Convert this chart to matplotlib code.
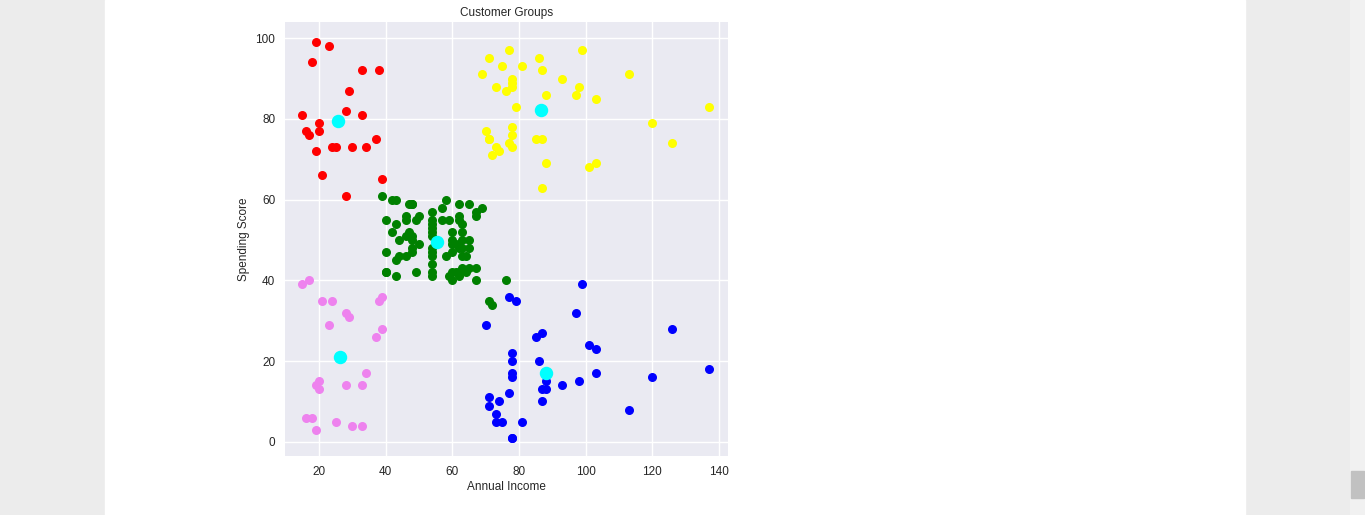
import numpy as np
import matplotlib
matplotlib.use("Agg")
import matplotlib.pyplot as plt
from matplotlib.patches import Rectangle

plt.rcParams['font.family'] = ['Liberation Sans', 'DejaVu Sans']

income = [15,15,16,16,17,17,18,18,19,19,19,19,20,20,20,20,21,21,23,23,24,24,25,25,28,28,28,28,29,29,30,30,33,33,33,33,34,34,37,37,38,38,39,39,39,39,40,40,40,40,42,42,43,43,43,43,44,44,46,46,46,46,47,47,48,48,48,48,48,48,49,49,50,50,54,54,54,54,54,54,54,54,54,54,54,54,57,57,58,58,59,59,60,60,60,60,60,60,61,61,62,62,62,62,62,62,63,63,63,63,63,63,64,64,65,65,65,65,67,67,67,67,69,69,70,70,71,71,71,71,71,71,72,72,73,73,73,73,74,74,75,75,76,76,77,77,77,77,78,78,78,78,78,78,78,78,78,78,78,78,79,79,81,81,85,85,86,86,87,87,87,87,87,87,88,88,88,88,93,93,97,97,98,98,99,99,101,101,103,103,103,103,113,113,120,120,126,126,137,137]
score = [39,81,6,77,40,76,6,94,3,72,14,99,15,77,13,79,35,66,29,98,35,73,5,73,14,82,32,61,31,87,4,73,4,92,14,81,17,73,26,75,35,92,36,61,28,65,55,47,42,42,52,60,54,60,45,41,50,46,51,46,56,55,52,59,51,59,50,48,59,47,55,42,49,56,47,54,53,48,52,42,51,55,41,44,57,46,58,55,60,46,55,41,49,40,42,52,47,50,42,49,41,48,59,55,56,42,50,46,43,48,52,54,42,46,48,50,43,59,43,57,56,40,58,91,29,77,35,95,11,75,9,75,34,71,5,88,7,73,10,72,5,93,40,87,12,97,36,74,22,90,17,88,20,76,16,89,1,78,1,73,35,83,5,93,26,75,20,95,27,63,13,75,10,92,13,86,15,69,14,90,32,86,15,88,39,97,24,68,17,85,23,69,8,91,16,79,28,74,18,83]
init_centers = [[25.7,79.4],[86.5,82.1],[55.3,49.5],[26.3,20.9],[88.2,17.1]]
colors = ['red','yellow','green','violet','blue']

X = np.column_stack([income, score]).astype(float)
C = np.array(init_centers, float)
for _ in range(50):
    lab = np.argmin(((X[:,None,:]-C[None])**2).sum(-1), axis=1)
    C = np.array([X[lab==k].mean(0) for k in range(5)])

fig = plt.figure(figsize=(13.65,5.15), dpi=100, facecolor='#ececec')
bg = fig.add_axes([0,0,1,1], zorder=-10)
bg.set_xlim(0,1365); bg.set_ylim(515,0); bg.axis('off')
bg.add_patch(Rectangle((105,0),1140,515,color='white'))
bg.add_patch(Rectangle((1350,0),15,515,color='#f1f1f1'))
bg.add_patch(Rectangle((1351,471),13,27,color='#c1c1c1'))

ax = fig.add_axes([285/1365, 59/515, 443/1365, 434/515])
ax.set_facecolor('#eaeaf2')
for s in ax.spines.values(): s.set_visible(False)
ax.grid(True, color='white', lw=1)
ax.set_axisbelow(True)
for k in range(5):
    m = lab==k
    ax.scatter(X[m,0], X[m,1], s=30, c=colors[k], zorder=2)
ax.scatter(C[:,0], C[:,1], s=75, c='cyan', zorder=3)
ax.set_xlim(9.8,142.7); ax.set_ylim(-3.5,104)
ax.set_xticks([20,40,60,80,100,120,140]); ax.set_yticks([0,20,40,60,80,100])
ax.tick_params(length=0, labelsize=8.5, colors='#262626', pad=7)
ax.set_title('Customer Groups', fontsize=8.5, color='#262626', pad=4)
ax.set_xlabel('Annual Income', fontsize=8.5, color='#262626', labelpad=2)
ax.set_ylabel('Spending Score', fontsize=8.5, color='#262626', labelpad=4)
fig.savefig('out.png', dpi=100, facecolor=fig.get_facecolor())
